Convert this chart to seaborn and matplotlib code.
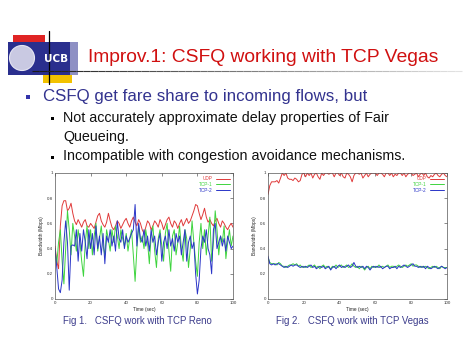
import numpy as np
import pandas as pd
import matplotlib
matplotlib.use("Agg")
import matplotlib.pyplot as plt
import matplotlib.patches as mpatches
from matplotlib.collections import LineCollection
import seaborn as sns

sns.set_theme(style="white")
plt.rcParams['font.family'] = ['Liberation Sans', 'DejaVu Sans']

# ---------------- data ----------------
time_sec = list(range(0, 101))
series_names = ["UDP", "TCP-1", "TCP-2"]

reno_udp = [0.42,0.30,0.24,0.58,0.74,0.78,0.78,0.70,0.72,0.76,
            0.68,0.62,0.59,0.63,0.60,0.57,0.61,0.63,0.58,0.57,
            0.60,0.58,0.56,0.61,0.66,0.68,0.62,0.59,0.57,0.61,
            0.68,0.62,0.57,0.55,0.58,0.62,0.60,0.56,0.59,0.62,
            0.64,0.60,0.57,0.62,0.65,0.61,0.58,0.63,0.60,0.55,
            0.52,0.57,0.62,0.60,0.55,0.58,0.62,0.60,0.57,0.63,
            0.60,0.55,0.59,0.63,0.65,0.60,0.57,0.62,0.60,0.56,
            0.60,0.63,0.58,0.61,0.64,0.60,0.62,0.66,0.70,0.75,
            0.74,0.68,0.63,0.67,0.72,0.65,0.61,0.63,0.60,0.58,
            0.62,0.64,0.60,0.57,0.62,0.60,0.57,0.55,0.58,0.60,
            0.57]
reno_tcp1 = [0.40,0.28,0.45,0.55,0.30,0.12,0.40,0.70,0.55,0.35,
             0.60,0.50,0.38,0.55,0.45,0.30,0.18,0.45,0.58,0.40,
             0.55,0.35,0.50,0.60,0.38,0.48,0.58,0.42,0.35,0.55,
             0.47,0.38,0.55,0.45,0.58,0.50,0.40,0.55,0.48,0.42,
             0.52,0.38,0.48,0.55,0.35,0.14,0.40,0.58,0.45,0.50,
             0.40,0.55,0.45,0.28,0.50,0.58,0.38,0.25,0.48,0.55,
             0.42,0.30,0.52,0.60,0.38,0.22,0.50,0.55,0.35,0.45,
             0.58,0.40,0.30,0.55,0.48,0.25,0.40,0.62,0.45,0.30,
             0.18,0.45,0.60,0.40,0.55,0.35,0.50,0.65,0.30,0.45,
             0.70,0.55,0.35,0.50,0.45,0.58,0.32,0.45,0.55,0.42,
             0.50]
reno_tcp2 = [0.40,0.25,0.08,0.05,0.15,0.45,0.62,0.45,0.07,0.42,
             0.43,0.42,0.55,0.30,0.52,0.38,0.55,0.45,0.32,0.55,
             0.40,0.52,0.35,0.58,0.40,0.50,0.35,0.52,0.28,0.50,
             0.45,0.55,0.42,0.50,0.38,0.62,0.48,0.45,0.55,0.40,
             0.50,0.45,0.48,0.52,0.55,0.75,0.42,0.60,0.48,0.45,
             0.55,0.42,0.50,0.38,0.55,0.45,0.50,0.35,0.45,0.52,
             0.30,0.45,0.50,0.40,0.55,0.42,0.48,0.38,0.52,0.45,
             0.50,0.35,0.45,0.55,0.30,0.45,0.50,0.40,0.45,0.20,
             0.04,0.15,0.40,0.50,0.45,0.55,0.40,0.35,0.20,0.55,
             0.60,0.40,0.45,0.50,0.42,0.48,0.38,0.50,0.45,0.40,
             0.42]

vegas_udp = [0.83,0.90,0.93,0.93,0.93,0.94,0.92,0.96,1.00,0.98,
             1.00,0.96,0.95,0.95,0.94,0.96,0.95,0.93,0.94,0.99,
             1.00,0.97,1.00,0.98,1.00,0.96,0.99,1.00,0.97,0.95,
             1.00,0.98,1.00,1.00,0.99,1.00,1.00,0.97,1.00,1.00,
             0.98,1.00,0.97,0.96,1.00,0.99,0.97,0.93,0.98,1.00,
             1.00,0.99,1.00,0.96,0.98,1.00,0.97,0.99,1.00,1.00,
             1.00,0.98,1.00,1.00,0.99,0.97,1.00,1.00,0.98,1.00,
             0.97,0.99,0.98,1.00,1.00,0.98,1.00,0.97,0.99,1.00,
             1.00,0.98,0.99,1.00,0.97,0.99,1.00,0.98,1.00,0.97,
             0.96,0.98,0.97,0.99,1.00,0.98,0.97,0.99,1.00,0.98,
             0.97]
vegas_tcp1 = [0.33,0.29,0.28,0.28,0.28,0.27,0.29,0.28,0.26,0.26,
              0.25,0.26,0.27,0.27,0.28,0.27,0.28,0.26,0.27,0.25,
              0.26,0.25,0.26,0.27,0.25,0.26,0.27,0.25,0.26,0.24,
              0.26,0.27,0.25,0.26,0.25,0.24,0.26,0.25,0.27,0.25,
              0.26,0.27,0.25,0.26,0.27,0.25,0.26,0.28,0.26,0.25,
              0.26,0.24,0.26,0.25,0.23,0.25,0.26,0.24,0.26,0.25,
              0.26,0.25,0.27,0.25,0.26,0.25,0.26,0.27,0.25,0.26,
              0.26,0.25,0.26,0.27,0.26,0.25,0.26,0.27,0.26,0.27,
              0.28,0.26,0.27,0.27,0.26,0.25,0.26,0.25,0.26,0.25,
              0.24,0.25,0.26,0.25,0.26,0.25,0.24,0.26,0.25,0.25,
              0.25]
vegas_tcp2 = [0.34,0.28,0.27,0.28,0.27,0.28,0.28,0.27,0.26,0.25,
              0.26,0.25,0.26,0.27,0.26,0.27,0.27,0.26,0.25,0.26,
              0.25,0.26,0.25,0.26,0.27,0.25,0.26,0.24,0.25,0.26,
              0.25,0.26,0.24,0.25,0.26,0.23,0.25,0.26,0.24,0.26,
              0.27,0.25,0.26,0.25,0.26,0.27,0.25,0.26,0.29,0.26,
              0.25,0.26,0.25,0.26,0.24,0.26,0.25,0.23,0.25,0.26,
              0.25,0.26,0.25,0.26,0.24,0.25,0.26,0.26,0.24,0.25,
              0.25,0.26,0.24,0.26,0.25,0.26,0.27,0.26,0.25,0.26,
              0.27,0.28,0.26,0.26,0.25,0.26,0.25,0.26,0.24,0.26,
              0.25,0.24,0.25,0.26,0.25,0.24,0.25,0.26,0.25,0.24,
              0.25]

x_ticks = [0, 20, 40, 60, 80, 100]
y_ticks = [0, 0.2, 0.4, 0.6, 0.8, 1]
y_tick_labels = ["0", "0.2", "0.4", "0.6", "0.8", "1"]

title_text = "Improv.1: CSFQ working with TCP Vegas"
bullet_main = "CSFQ get fare share to incoming flows, but"
sub_bullets = ["Not accurately approximate delay properties of Fair", "Queueing.",
               "Incompatible with congestion avoidance mechanisms."]
captions = ["Fig 1.   CSFQ work with TCP Reno", "Fig 2.   CSFQ work with TCP Vegas"]

palette = {"UDP": "#e03a3a", "TCP-1": "#3fd43f", "TCP-2": "#2a35c8"}

W, H = 474, 355
fig = plt.figure(figsize=(W / 100, H / 100), dpi=100)
fig.patch.set_facecolor("white")

# background axes in pixel coordinates
bg = fig.add_axes([0, 0, 1, 1])
bg.set_xlim(0, W)
bg.set_ylim(H, 0)
bg.axis("off")

# logo
bg.add_patch(mpatches.Rectangle((13, 35), 32, 7, color="#e02424", lw=0))
bg.add_patch(mpatches.Rectangle((8, 42), 66, 33, color="#2a2f8e", lw=0))
bg.add_patch(mpatches.Rectangle((70, 42), 8, 33, color="#8e90c4", lw=0))
bg.add_patch(mpatches.Rectangle((43, 75), 29, 8, color="#f2c200", lw=0))
bg.add_patch(mpatches.Circle((22, 58), 12.5, facecolor="#c9c9e2", edgecolor="#e6e6f2", lw=0.8))
bg.text(56, 58.5, "UCB", color="white", fontsize=7.5, fontweight="bold",
        ha="center", va="center", family=["DejaVu Sans"])
bg.plot([49, 49], [31, 84], color="black", lw=0.9)
xs = np.linspace(32, 462, 60)
segs = [[(xs[i], 71), (xs[i + 1], 71)] for i in range(len(xs) - 1)]
cols = [(0.1 + 0.8 * i / len(segs),) * 3 for i in range(len(segs))]
bg.add_collection(LineCollection(segs, colors=cols, linewidths=0.8))

# title
bg.text(88, 58, title_text, color="#d01010", fontsize=13.9, ha="left", va="center")

# bullets
bg.add_patch(mpatches.Rectangle((26, 95), 4, 4, color="#3333aa", lw=0))
bg.text(43, 97, bullet_main, color="#33338f", fontsize=12.2, ha="left", va="center")
for yy in (118, 157):
    bg.add_patch(mpatches.Rectangle((51, yy - 1.5), 3, 3, color="black", lw=0))
for txt, yy in zip(sub_bullets, (118, 136.5, 156)):
    bg.text(63, yy, txt, color="#111111", fontsize=10.3, ha="left", va="center")

# captions
bg.text(137, 321, captions[0], color="#3b3b8b", fontsize=6.9, ha="center", va="center")
bg.text(352, 321, captions[1], color="#3b3b8b", fontsize=6.9, ha="center", va="center")


def make_df(udp, t1, t2):
    frames = []
    for name, vals in zip(series_names, (udp, t1, t2)):
        frames.append(pd.DataFrame({"Time": time_sec, "Bandwidth": vals, "Flow": name}))
    return pd.concat(frames, ignore_index=True)


def px_axes(x0, x1, y0, y1):
    return fig.add_axes([x0 / W, 1 - y1 / H, (x1 - x0) / W, (y1 - y0) / H])


panels = [
    (px_axes(55, 233, 173, 299), make_df(reno_udp, reno_tcp1, reno_tcp2)),
    (px_axes(268, 447, 173, 299), make_df(vegas_udp, vegas_tcp1, vegas_tcp2)),
]

for ax, df in panels:
    sns.lineplot(data=df, x="Time", y="Bandwidth", hue="Flow", palette=palette,
                 hue_order=series_names, lw=0.7, ax=ax, estimator=None)
    ax.set_xlim(0, 100)
    ax.set_ylim(0, 1)
    ax.set_xticks(x_ticks)
    ax.set_xticklabels([str(v) for v in x_ticks])
    ax.set_yticks(y_ticks)
    ax.set_yticklabels(y_tick_labels)
    ax.tick_params(direction="in", length=2, width=0.4, labelsize=3.2, pad=1.5,
                   top=True, right=True, colors="#333333")
    ax.set_xlabel("Time (sec)", fontsize=3.4, labelpad=1.5, color="#222222")
    ax.set_ylabel("Bandwidth (Mbps)", fontsize=3.4, labelpad=2, color="#222222")
    for s in ax.spines.values():
        s.set_linewidth(0.5)
        s.set_color("#555555")
    ax.set_facecolor("white")
    leg = ax.legend(loc="upper right", markerfirst=False, frameon=False, fontsize=3.4,
                    handlelength=3.0, handletextpad=0.6, labelspacing=0.15,
                    borderaxespad=0.3, labelcolor="linecolor")

fig.savefig("out.png", dpi=100, facecolor="white")
